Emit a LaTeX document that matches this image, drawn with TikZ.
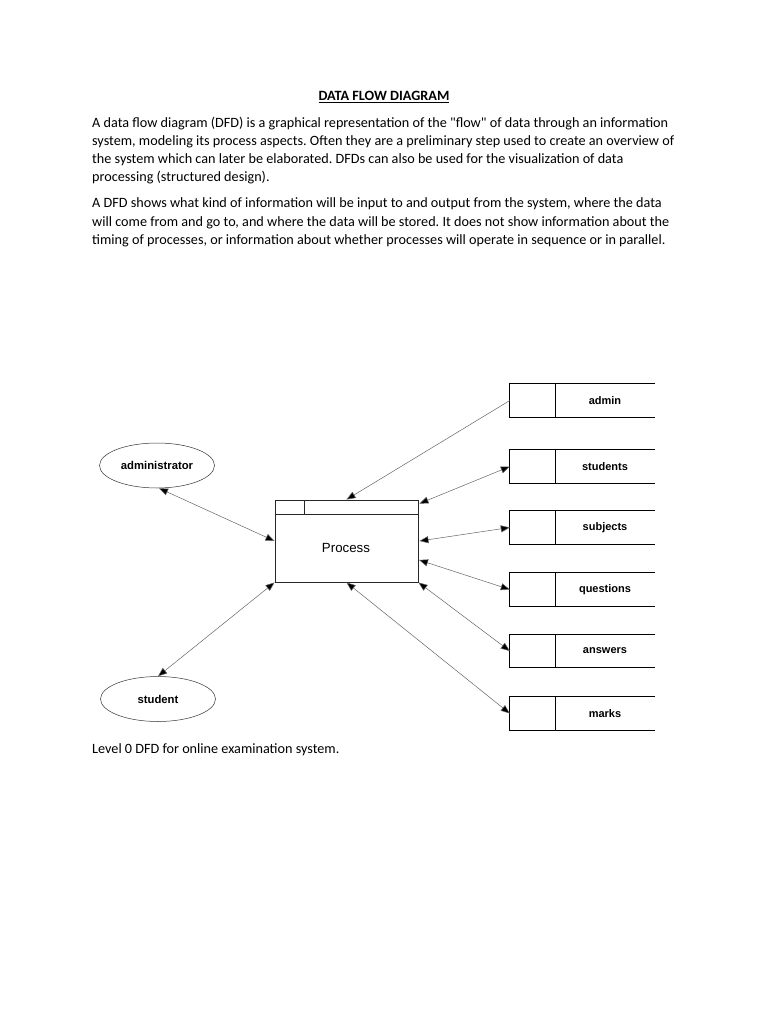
\documentclass[tikz,border=0pt]{standalone}
\usepackage{fontspec}
\setmainfont{Carlito}
\newfontfamily\qfont{Carlito}
\newfontfamily\arialf{Liberation Sans}
\usetikzlibrary{shapes.geometric,arrows.meta}
\frenchspacing
\begin{document}
\begin{tikzpicture}[x=1pt,y=-1pt,
  body/.style={anchor=base west,inner sep=0pt,font=\fontsize{14.2}{17}\selectfont},
  ent/.style={ellipse,draw=black!80,line width=0.5pt,minimum width=115pt,minimum height=45pt,inner sep=0pt,font=\arialf\bfseries\fontsize{11.3}{13}\selectfont},
  store/.style={rectangle,draw=none,minimum width=145pt,minimum height=33pt,inner sep=0pt},
  slabel/.style={font=\arialf\bfseries\fontsize{11}{13}\selectfont,inner sep=0pt},
  flow/.style={draw=black!60,line width=0.5pt,{Triangle[length=9pt,width=7pt,fill=black]}-{Triangle[length=9pt,width=7pt,fill=black]}},
  flowone/.style={draw=black!60,line width=0.5pt,-{Triangle[length=9pt,width=7pt,fill=black]}},
  sline/.style={draw=black,line width=0.9pt}]
\useasboundingbox (0,0) rectangle (768,1024);
\fill[white] (0,0) rectangle (768,1024);
% text
\node[anchor=base,inner sep=0pt,font=\bfseries\fontsize{14.2}{17}\selectfont] (title) at (384,101) {\underline{DATA FLOW DIAGRAM}};
\node[body] (p1) at (92,128) {A data flow diagram (DFD) is a graphical representation of the {\qfont"}flow{\qfont"} of data through an information};
\node[body] (p2) at (92,146) {system, modeling its process aspects. Often they are a preliminary step used to create an overview of};
\node[body] (p3) at (92,164) {the system which can later be elaborated. DFDs can also be used for the visualization of data};
\node[body] (p4) at (92,182) {processing (structured design).};
\node[body] (q1) at (92,208) {A DFD shows what kind of information will be input to and output from the system, where the data};
\node[body] (q2) at (92,226) {will come from and go to, and where the data will be stored. It does not show information about the};
\node[body] (q3) at (92,244) {timing of processes, or information about whether processes will operate in sequence or in parallel.};
\node[body] (cap) at (92,753) {Level 0 DFD for online examination system.};
% process
\node[rectangle,draw=black!85,line width=0.9pt,minimum width=143pt,minimum height=82pt,inner sep=0pt] (proc) at (346.5,541) {};
\draw[black!85,line width=0.9pt] (275,514) -- (418,514) (304,500) -- (304,514);
\node[font=\arialf\fontsize{13.3}{15}\selectfont,inner sep=0pt] (ptext) at (346,548) {Process};
\coordinate (pq) at (419,560);
% entities
\node[ent] (adm) at (157,465.5) {administrator};
\node[ent] (stu) at (158,699) {student};
% stores
\foreach \n/\t/\y in {sadmin/admin/400.5, sstudents/students/466.5, ssubjects/subjects/527.5, squestions/questions/589.5, sanswers/answers/651, smarks/marks/713.5}{
  \node[store] (\n) at (582.5,\y) {};
  \draw[sline] (\n.north east) -- (\n.north west) -- (\n.south west) -- (\n.south east);
  \draw[sline] ([xshift=46pt]\n.north west) -- ([xshift=46pt]\n.south west);
  \node[slabel] (\n-l) at (605,\y) {\t};
}
% flows
\draw[flowone] (sadmin.west) -- (proc.north);
\draw[flow] (sstudents.west) -- ([xshift=1pt,yshift=-4pt]proc.north east);
\draw[flow] (ssubjects.west) -- ([xshift=1pt]proc.east);
\draw[flow] (squestions.west) -- (pq);
\draw[flow] (sanswers.west) -- (proc.south east);
\draw[flow] (smarks.west) -- (proc.south);
\draw[flow] (adm.-85) -- (proc.west);
\draw[flow] (stu.north) -- (proc.south west);
\end{tikzpicture}
\end{document}
